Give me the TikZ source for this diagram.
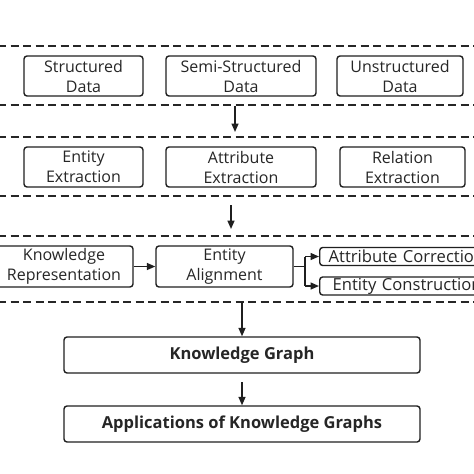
\documentclass[tikz,border=0pt]{standalone}
\usepackage{fontspec}
\setmainfont{Open Sans}
\usetikzlibrary{arrows.meta}
\tikzset{
  box/.style={draw=black!88, line width=1.4pt, rounded corners=3pt, align=center, inner sep=0pt,
    font=\fontsize{16}{20}\selectfont, text=black!85},
  bbox/.style={box, font=\fontsize{16.5}{20}\selectfont\bfseries},
  sbox/.style={box, font=\fontsize{16.6}{20}\selectfont, align=left, anchor=west, minimum height=18pt, text width=220pt},
  sep/.style={draw=black!85, line width=2pt, dash pattern=on 8pt off 4.5pt},
  arr/.style={draw=black!88, line width=1.5pt, -{Triangle[length=8.5pt,width=7pt]}},
  ln/.style={draw=black!88, line width=1.5pt},
}
\begin{document}
\begin{tikzpicture}[x=1pt,y=-1pt]
\useasboundingbox (0,0) rectangle (474,474);
\clip (0,0) rectangle (474,474);
\fill[white] (0,0) rectangle (474,474);
% separators
\foreach \y in {46,105,137,196,236,302} {\path[sep] (-2,\y) -- (476,\y);}
% row 1
\node[box, minimum width=119pt, minimum height=40pt] (sd) at (83.5,76) {Structured\\Data};
\node[box, minimum width=150pt, minimum height=40pt] (ssd) at (241,76) {Semi-Structured\\Data};
\node[box, minimum width=126pt, minimum height=40pt] (ud) at (400,76) {Unstructured\\Data};
% row 2
\node[box, minimum width=119pt, minimum height=40pt] (ee) at (83.5,167) {Entity\\Extraction};
\node[box, minimum width=150pt, minimum height=40pt] (ae) at (241,167) {Attribute\\Extraction};
\node[box, minimum width=125pt, minimum height=40pt] (re) at (402.5,167) {Relation\\Extraction};
% row 3
\node[box, minimum width=138pt, minimum height=41pt] (kr) at (64,266.5) {Knowledge\\Representation};
\node[box, minimum width=137pt, minimum height=41pt] (ea) at (224.5,266.5) {Entity\\Alignment};
\node[sbox] (ac) at (319,256.5) {\hspace*{9pt}Attribute Correction};
\node[sbox] (ec) at (319,286) {\hspace*{13pt}Entity Construction};
% bottom
\node[bbox, minimum width=356pt, minimum height=36pt] (kg) at (242,355) {Knowledge Graph};
\node[bbox, minimum width=356pt, minimum height=36pt] (app) at (242,424) {Applications of Knowledge Graphs};
% connector coordinates
\coordinate (a1s) at (235,105.5);
\coordinate (a1e) at (235,132);
\coordinate (a2s) at (231,205);
\coordinate (a2e) at (231,229);
\coordinate (a3s) at (242,302);
\coordinate (a4s) at (242,382);
\coordinate (fork) at (305,266.5);
\coordinate (forkt) at (305,256.5);
\coordinate (forkb) at (305,286);
% connectors
\draw[arr] (a1s) -- (a1e);
\draw[arr] (a2s) -- (a2e);
\draw[arr] (a3s) -- (kg.north);
\draw[arr] (a4s) -- (app.north);
\draw[arr] (kr.east) -- (ea.west);
\draw[ln] (ea.east) -- (fork);
\draw[ln] (forkt) -- (forkb);
\draw[arr] (forkt) -- (ac.west);
\draw[arr] (forkb) -- (ec.west);
\end{tikzpicture}
\end{document}
